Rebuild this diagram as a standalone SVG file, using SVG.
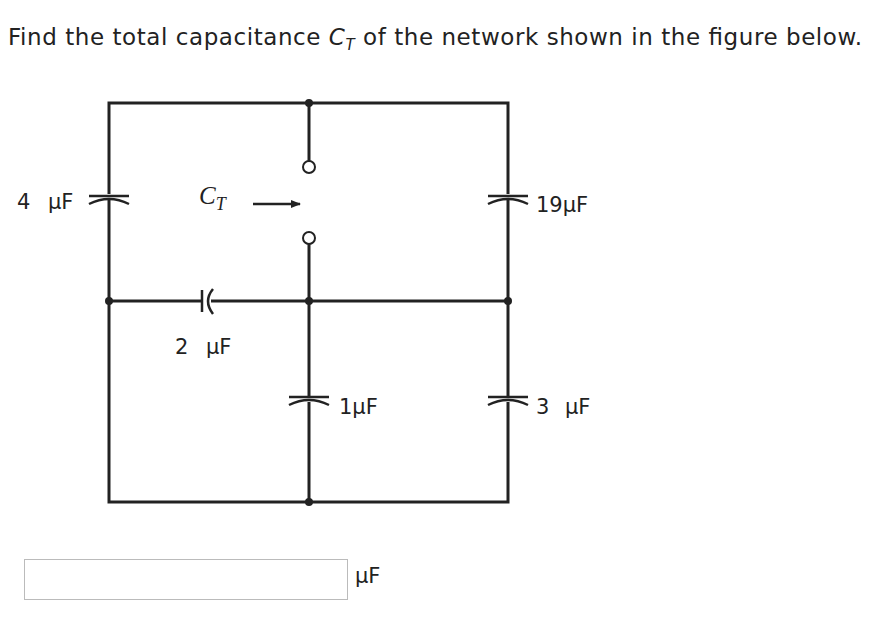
<svg xmlns="http://www.w3.org/2000/svg" width="875" height="618" viewBox="0 0 875 618">
<style>
.w{stroke:#222;stroke-width:3;fill:none}
.p{stroke:#222;stroke-width:2.5;fill:none}
.t{font-family:"DejaVu Sans",sans-serif;font-size:21px;fill:#222}
.d{fill:#222}
</style>
<defs><marker id="a" markerWidth="10" markerHeight="8" refX="9" refY="4" orient="auto" markerUnits="userSpaceOnUse"><path d="M0,0L10,4L0,8z" fill="#222"/></marker></defs>
<rect width="875" height="618" fill="#fff"/>
<text x="8" y="45" textLength="854" style="font-family:'DejaVu Sans',sans-serif;font-size:23px;fill:#222">Find the total capacitance <tspan font-style="italic">C</tspan><tspan font-style="italic" font-size="15" dy="5">T</tspan><tspan dy="-5"> of the network shown in the figure below.</tspan></text>
<g id="connectors">
<path class="w" d="M109,194V103H508V194M508,200V396M508,402V502H109V301M109,301V200M109,301H202M211,301H508M309,103V161M309,244V396M309,402V502"/>
<line class="p" x1="253" y1="204" x2="300" y2="204" marker-end="url(#a)"/>
</g>
<g id="c4"><path class="p" d="M89,196H129M89,204Q109,194 129,204"/><text class="t" x="17" y="209">4 <tspan x="48">µF</tspan></text></g>
<g id="c19"><path class="p" d="M488,196H528M488,204Q508,194 528,204"/><text class="t" x="536" y="212">19µF</text></g>
<g id="c1"><path class="p" d="M289,397H329M289,405Q309,395 329,405"/><text class="t" x="339" y="414">1µF</text></g>
<g id="c3"><path class="p" d="M488,397H528M488,405Q508,395 528,405"/><text class="t" x="536" y="414">3 <tspan x="565">µF</tspan></text></g>
<g id="c2"><path class="p" d="M202,290V312M213,289Q203,301 213,314"/><text class="t" x="175" y="354">2 <tspan x="206">µF</tspan></text></g>
<g id="terminals"><circle cx="109" cy="301" r="4" class="d"/><circle cx="309" cy="103" r="4" class="d"/><circle cx="309" cy="301" r="4" class="d"/><circle cx="508" cy="301" r="4" class="d"/><circle cx="309" cy="502" r="4" class="d"/>
<circle cx="309" cy="167" r="6" fill="#fff" stroke="#222" stroke-width="2"/><circle cx="309" cy="238" r="6" fill="#fff" stroke="#222" stroke-width="2"/></g>
<g id="ct"><text x="199" y="204" style="font-family:'Liberation Serif',serif;font-style:italic;font-size:25px;fill:#222">C<tspan font-size="18" dy="6">T</tspan></text></g>
<g id="answer"><rect x="24.5" y="559.5" width="323" height="40" fill="#fff" stroke="#bbb"/><text class="t" x="355" y="583">µF</text></g>
</svg>
